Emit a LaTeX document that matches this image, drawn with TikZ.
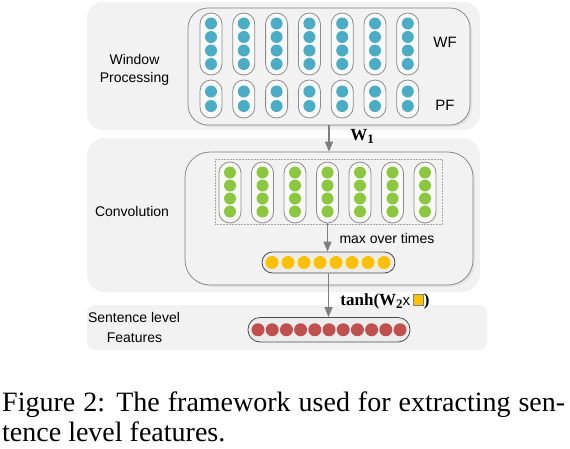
\documentclass[tikz,border=0pt]{standalone}
\usepackage{fontspec}
\setmainfont{Liberation Serif}
\setsansfont{Liberation Sans}
\usetikzlibrary{arrows.meta,shadows}
\definecolor{dotblue}{HTML}{4BACC6}
\definecolor{dotgreen}{HTML}{8CC83F}
\definecolor{dotorange}{HTML}{FFC000}
\definecolor{dotred}{HTML}{C0504D}
\definecolor{panelgray}{HTML}{F2F2F2}
\definecolor{linegray}{HTML}{7F7F7F}
\tikzset{
  panel/.style={fill=panelgray, draw=none, inner sep=0},
  inbox/.style={draw=linegray, fill=panelgray, line width=0.7, inner sep=0,
    drop shadow={shadow xshift=2pt, shadow yshift=-2pt, opacity=0.12}},
  pill/.style={draw=linegray!90, fill=gray!5, rounded corners=11, line width=0.8, inner sep=0, minimum width=22},
  bar/.style={draw=black!70, fill=white!85!gray, line width=0.8, inner sep=0},
  dot/.style={circle, inner sep=0, minimum size=12, draw=none},
  arr/.style={draw=linegray, line width=1.3, -{Triangle[length=10pt,width=8pt]}},
  lab/.style={font=\sffamily\fontsize{14}{17}\selectfont, inner sep=0},
  mathlab/.style={font=\bfseries\fontsize{17}{20}\selectfont, inner sep=0},
  captext/.style={font=\fontsize{28}{31}\selectfont, inner sep=0, anchor=base west}
}
\begin{document}
\begin{tikzpicture}[x=1pt,y=-1pt]
\useasboundingbox (0,0) rectangle (570,448);
% panels
\node[panel, rounded corners=16, minimum width=393, minimum height=128] (p1) at (283.5,66) {};
\node[panel, rounded corners=18, minimum width=393, minimum height=154] (p2) at (283.5,215) {};
\node[panel, rounded corners=8, minimum width=400, minimum height=45] (p3) at (287,327.5) {};
% inner boxes
\node[inbox, rounded corners=20, minimum width=282, minimum height=117] (in1) at (329,66.5) {};
\node[inbox, rounded corners=25, minimum width=288, minimum height=133] (in2) at (329,218.5) {};
\node[draw=gray!70, densely dotted, line width=0.5, inner sep=0, minimum width=227, minimum height=65] (dash) at (328.5,191.5) {};
% WF and PF pills
\foreach \i in {0,...,6}{
  \pgfmathsetmacro{\xx}{211+32.8*\i}
  \node[pill, minimum height=62] (wf\i) at (\xx,44) {};
  \foreach \j in {0,...,3}{
    \node[dot, fill=dotblue] (wf\i d\j) at (\xx,{23.5+13.5*\j}) {};
  }
  \node[pill, minimum height=38] (pf\i) at (\xx,99) {};
  \foreach \j in {0,1}{
    \node[dot, fill=dotblue] (pf\i d\j) at (\xx,{91.5+14.5*\j}) {};
  }
  \pgfmathsetmacro{\gx}{230+32.5*\i}
  \node[pill, minimum height=61] (gp\i) at (\gx,192.5) {};
  \foreach \j in {0,...,3}{
    \node[dot, fill=dotgreen] (gp\i d\j) at (\gx,{172.5+13*\j}) {};
  }
}
% orange bar
\node[bar, rounded corners=10.5, minimum width=133, minimum height=21] (ob) at (328.5,262.5) {};
\foreach \k in {0,...,7}{
  \node[dot, fill=dotorange, minimum size=13] (ob\k) at ({272+16*\k},262.5) {};
}
% red bar
\node[bar, rounded corners=12, minimum width=162, minimum height=24.5] (rb) at (329,329.75) {};
\foreach \k in {0,...,10}{
  \node[dot, fill=dotred, minimum size=13] (rb\k) at ({258+14.2*\k},329.75) {};
}
% labels
\node[lab] (tw) at (134.5,59) {Window};
\node[lab] (tp) at (134.5,78.5) {Processing};
\node[lab, font=\sffamily\fontsize{15}{18}\selectfont] (twf) at (445,42) {WF};
\node[lab, font=\sffamily\fontsize{15}{18}\selectfont] (tpf) at (445,105) {PF};
\node[lab] (tc) at (132,211) {Convolution};
\node[lab] (tm) at (387,238) {max over times};
\node[lab] (ts) at (134,317) {Sentence level};
\node[lab] (tf) at (134.5,338) {Features};
\node[mathlab] (w1) at (362,136) {W\raisebox{-3pt}{\fontsize{13}{14}\selectfont 1}};
\node[mathlab] (tanh) at (385,301) {tanh(W\raisebox{-3pt}{\fontsize{13}{14}\selectfont 2}\textmd{\sffamily\fontsize{15}{18}\selectfont x}\,{\setlength{\fboxsep}{0pt}\fcolorbox{linegray}{dotorange}{\rule{0pt}{11pt}\rule{10pt}{0pt}}})};
% arrows
\draw[arr] (in1.south) -- (in2.north);
\draw[arr] (gp3.south) -- (gp3.south |- ob.north);
\draw[arr] (ob.south) -- (ob.south |- rb.north);
% caption
\node[captext] (c1) at (2,411) {\makebox[563pt][s]{Figure 2: The framework used for extracting sen-}};
\node[captext] (c2) at (2,441) {tence level features.};
\end{tikzpicture}
\end{document}
